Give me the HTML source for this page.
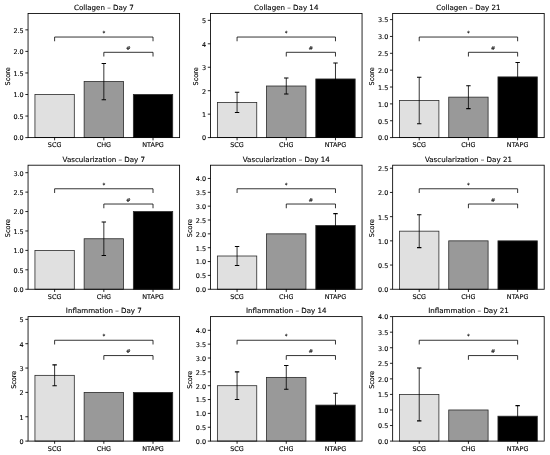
<!DOCTYPE html>
<html lang="en"><head><meta charset="utf-8"><title>Histological scores</title>
<style>html,body{margin:0;padding:0;background:#fff}body{width:550px;height:455px;overflow:hidden}svg{display:block}
text{font-family:"DejaVu Sans","Liberation Sans",sans-serif;fill:#000000;stroke:#000000;stroke-width:0.12px}
.t{font-size:7.1px;text-anchor:middle}.k{font-size:6.45px}.y{text-anchor:end}.x{text-anchor:middle}.a{font-size:5.6px;text-anchor:middle;stroke-width:0.08px}
.s{fill:none;stroke:#000000;stroke-width:0.85}.b{stroke:#000000;stroke-width:0.8}.e{fill:none;stroke:#000000;stroke-width:0.8}.r{fill:none;stroke:#000000;stroke-width:0.8}.c{fill:none;stroke:#000;stroke-width:1.05}.b{stroke:#2a2a2a}
</style></head><body>
<svg width="550" height="455" viewBox="0 0 550 455">
<rect width="550" height="455" fill="#fff"/>
<g>
<text class="t" x="103.83" y="9.95">Collagen – Day 7</text>
<rect class="b" x="34.94" y="94.5" width="39.36" height="43.1" fill="#e0e0e0"/>
<rect class="b" x="84.14" y="81.57" width="39.36" height="56.03" fill="#999999"/>
<rect class="b" x="133.35" y="94.5" width="39.36" height="43.1" fill="#000000"/>
<path class="e" d="M103.83 63.47V99.67"/><path class="c" d="M101.62 63.47H106.03M101.62 99.67H106.03"/>
<path class="r" d="M54.62 41.26V37.04H153.03V41.26M103.83 56.53V52.31H153.03V56.53"/>
<text class="a" x="103.83" y="34.84">*</text>
<text class="a" x="128.43" y="50.21">#</text>
<rect class="s" x="28.05" y="13.45" width="151.55" height="124.15"/>
<path class="s" d="M28.05 137.6h-2.7M28.05 116.05h-2.7M28.05 94.5h-2.7M28.05 72.95h-2.7M28.05 51.4h-2.7M28.05 29.85h-2.7M54.62 137.6v2.7M103.83 137.6v2.7M153.03 137.6v2.7"/>
<text class="k y" x="23.65" y="140.45">0.0</text>
<text class="k y" x="23.65" y="118.9">0.5</text>
<text class="k y" x="23.65" y="97.35">1.0</text>
<text class="k y" x="23.65" y="75.8">1.5</text>
<text class="k y" x="23.65" y="54.25">2.0</text>
<text class="k y" x="23.65" y="32.7">2.5</text>
<text class="k x" x="54.62" y="147.3">SCG</text>
<text class="k x" x="103.83" y="147.3">CHG</text>
<text class="k x" x="153.03" y="147.3">NTAPG</text>
<text class="k x" transform="translate(9.81 76.42) rotate(-90)">Score</text>
</g>
<g>
<text class="t" x="286.27" y="9.95">Collagen – Day 14</text>
<rect class="b" x="217.39" y="102.42" width="39.36" height="35.17" fill="#e0e0e0"/>
<rect class="b" x="266.59" y="86.01" width="39.36" height="51.59" fill="#999999"/>
<rect class="b" x="315.8" y="78.97" width="39.36" height="58.62" fill="#000000"/>
<path class="e" d="M237.07 92.34V112.51M286.27 78.04V93.98M335.48 63.03V94.92"/><path class="c" d="M234.87 92.34H239.27M234.87 112.51H239.27M284.07 78.04H288.47M284.07 93.98H288.47M333.28 63.03H337.68M333.28 94.92H337.68"/>
<path class="r" d="M237.07 41.26V37.04H335.48V41.26M286.27 56.53V52.31H335.48V56.53"/>
<text class="a" x="286.27" y="34.84">*</text>
<text class="a" x="310.88" y="50.21">#</text>
<rect class="s" x="210.5" y="13.45" width="151.55" height="124.15"/>
<path class="s" d="M210.5 137.6h-2.7M210.5 114.15h-2.7M210.5 90.7h-2.7M210.5 67.25h-2.7M210.5 43.8h-2.7M210.5 20.35h-2.7M237.07 137.6v2.7M286.27 137.6v2.7M335.48 137.6v2.7"/>
<text class="k y" x="206.1" y="140.45">0</text>
<text class="k y" x="206.1" y="117">1</text>
<text class="k y" x="206.1" y="93.55">2</text>
<text class="k y" x="206.1" y="70.1">3</text>
<text class="k y" x="206.1" y="46.65">4</text>
<text class="k y" x="206.1" y="23.2">5</text>
<text class="k x" x="237.07" y="147.3">SCG</text>
<text class="k x" x="286.27" y="147.3">CHG</text>
<text class="k x" x="335.48" y="147.3">NTAPG</text>
<text class="k x" transform="translate(198.42 76.42) rotate(-90)">Score</text>
</g>
<g>
<text class="t" x="468.43" y="9.95">Collagen – Day 21</text>
<rect class="b" x="399.54" y="100.51" width="39.36" height="37.09" fill="#e0e0e0"/>
<rect class="b" x="448.74" y="97.14" width="39.36" height="40.46" fill="#999999"/>
<rect class="b" x="497.95" y="76.9" width="39.36" height="60.7" fill="#000000"/>
<path class="e" d="M419.22 77.24V123.77M468.42 85.67V108.6M517.63 62.4V91.4"/><path class="c" d="M417.02 77.24H421.42M417.02 123.77H421.42M466.22 85.67H470.62M466.22 108.6H470.62M515.43 62.4H519.83M515.43 91.4H519.83"/>
<path class="r" d="M419.22 41.26V37.04H517.63V41.26M468.42 56.53V52.31H517.63V56.53"/>
<text class="a" x="468.42" y="34.84">*</text>
<text class="a" x="493.03" y="50.21">#</text>
<rect class="s" x="392.65" y="13.45" width="151.55" height="124.15"/>
<path class="s" d="M392.65 137.6h-2.7M392.65 120.74h-2.7M392.65 103.88h-2.7M392.65 87.02h-2.7M392.65 70.16h-2.7M392.65 53.3h-2.7M392.65 36.44h-2.7M392.65 19.58h-2.7M419.22 137.6v2.7M468.42 137.6v2.7M517.63 137.6v2.7"/>
<text class="k y" x="388.25" y="140.45">0.0</text>
<text class="k y" x="388.25" y="123.59">0.5</text>
<text class="k y" x="388.25" y="106.73">1.0</text>
<text class="k y" x="388.25" y="89.87">1.5</text>
<text class="k y" x="388.25" y="73.01">2.0</text>
<text class="k y" x="388.25" y="56.15">2.5</text>
<text class="k y" x="388.25" y="39.29">3.0</text>
<text class="k y" x="388.25" y="22.43">3.5</text>
<text class="k x" x="419.22" y="147.3">SCG</text>
<text class="k x" x="468.42" y="147.3">CHG</text>
<text class="k x" x="517.63" y="147.3">NTAPG</text>
<text class="k x" transform="translate(374.41 76.42) rotate(-90)">Score</text>
</g>
<g>
<text class="t" x="103.83" y="161.7">Vascularization – Day 7</text>
<rect class="b" x="34.94" y="250.4" width="39.36" height="38.85" fill="#e0e0e0"/>
<rect class="b" x="84.14" y="238.75" width="39.36" height="50.5" fill="#999999"/>
<rect class="b" x="133.35" y="211.55" width="39.36" height="77.7" fill="#000000"/>
<path class="e" d="M103.83 222.04V255.45"/><path class="c" d="M101.62 222.04H106.03M101.62 255.45H106.03"/>
<path class="r" d="M54.62 192.99V188.77H153.03V192.99M103.83 208.25V204.03H153.03V208.25"/>
<text class="a" x="103.83" y="186.57">*</text>
<text class="a" x="128.43" y="201.93">#</text>
<rect class="s" x="28.05" y="165.2" width="151.55" height="124.05"/>
<path class="s" d="M28.05 289.25h-2.7M28.05 269.82h-2.7M28.05 250.4h-2.7M28.05 230.97h-2.7M28.05 211.55h-2.7M28.05 192.12h-2.7M28.05 172.7h-2.7M54.62 289.25v2.7M103.83 289.25v2.7M153.03 289.25v2.7"/>
<text class="k y" x="23.65" y="292.1">0.0</text>
<text class="k y" x="23.65" y="272.68">0.5</text>
<text class="k y" x="23.65" y="253.25">1.0</text>
<text class="k y" x="23.65" y="233.83">1.5</text>
<text class="k y" x="23.65" y="214.4">2.0</text>
<text class="k y" x="23.65" y="194.98">2.5</text>
<text class="k y" x="23.65" y="175.55">3.0</text>
<text class="k x" x="54.62" y="298.95">SCG</text>
<text class="k x" x="103.83" y="298.95">CHG</text>
<text class="k x" x="153.03" y="298.95">NTAPG</text>
<text class="k x" transform="translate(9.81 228.12) rotate(-90)">Score</text>
</g>
<g>
<text class="t" x="286.27" y="161.7">Vascularization – Day 14</text>
<rect class="b" x="217.39" y="256.01" width="39.36" height="33.24" fill="#e0e0e0"/>
<rect class="b" x="266.59" y="233.85" width="39.36" height="55.4" fill="#999999"/>
<rect class="b" x="315.8" y="225.54" width="39.36" height="63.71" fill="#000000"/>
<path class="e" d="M237.07 246.59V265.43M335.48 213.63V237.45"/><path class="c" d="M234.87 246.59H239.27M234.87 265.43H239.27M333.28 213.63H337.68M333.28 237.45H337.68"/>
<path class="r" d="M237.07 192.99V188.77H335.48V192.99M286.27 208.25V204.03H335.48V208.25"/>
<text class="a" x="286.27" y="186.57">*</text>
<text class="a" x="310.88" y="201.93">#</text>
<rect class="s" x="210.5" y="165.2" width="151.55" height="124.05"/>
<path class="s" d="M210.5 289.25h-2.7M210.5 275.4h-2.7M210.5 261.55h-2.7M210.5 247.7h-2.7M210.5 233.85h-2.7M210.5 220h-2.7M210.5 206.15h-2.7M210.5 192.3h-2.7M210.5 178.45h-2.7M237.07 289.25v2.7M286.27 289.25v2.7M335.48 289.25v2.7"/>
<text class="k y" x="206.1" y="292.1">0.0</text>
<text class="k y" x="206.1" y="278.25">0.5</text>
<text class="k y" x="206.1" y="264.4">1.0</text>
<text class="k y" x="206.1" y="250.55">1.5</text>
<text class="k y" x="206.1" y="236.7">2.0</text>
<text class="k y" x="206.1" y="222.85">2.5</text>
<text class="k y" x="206.1" y="209">3.0</text>
<text class="k y" x="206.1" y="195.15">3.5</text>
<text class="k y" x="206.1" y="181.3">4.0</text>
<text class="k x" x="237.07" y="298.95">SCG</text>
<text class="k x" x="286.27" y="298.95">CHG</text>
<text class="k x" x="335.48" y="298.95">NTAPG</text>
<text class="k x" transform="translate(192.26 228.12) rotate(-90)">Score</text>
</g>
<g>
<text class="t" x="468.43" y="161.7">Vascularization – Day 21</text>
<rect class="b" x="399.54" y="231.17" width="39.36" height="58.08" fill="#e0e0e0"/>
<rect class="b" x="448.74" y="240.85" width="39.36" height="48.4" fill="#999999"/>
<rect class="b" x="497.95" y="240.85" width="39.36" height="48.4" fill="#000000"/>
<path class="e" d="M419.22 214.71V247.63"/><path class="c" d="M417.02 214.71H421.42M417.02 247.63H421.42"/>
<path class="r" d="M419.22 192.99V188.77H517.63V192.99M468.42 208.25V204.03H517.63V208.25"/>
<text class="a" x="468.42" y="186.57">*</text>
<text class="a" x="493.03" y="201.93">#</text>
<rect class="s" x="392.65" y="165.2" width="151.55" height="124.05"/>
<path class="s" d="M392.65 289.25h-2.7M392.65 265.05h-2.7M392.65 240.85h-2.7M392.65 216.65h-2.7M392.65 192.45h-2.7M392.65 168.25h-2.7M419.22 289.25v2.7M468.42 289.25v2.7M517.63 289.25v2.7"/>
<text class="k y" x="388.25" y="292.1">0.0</text>
<text class="k y" x="388.25" y="267.9">0.5</text>
<text class="k y" x="388.25" y="243.7">1.0</text>
<text class="k y" x="388.25" y="219.5">1.5</text>
<text class="k y" x="388.25" y="195.3">2.0</text>
<text class="k y" x="388.25" y="171.1">2.5</text>
<text class="k x" x="419.22" y="298.95">SCG</text>
<text class="k x" x="468.42" y="298.95">CHG</text>
<text class="k x" x="517.63" y="298.95">NTAPG</text>
<text class="k x" transform="translate(374.41 228.12) rotate(-90)">Score</text>
</g>
<g>
<text class="t" x="103.83" y="313.1">Inflammation – Day 7</text>
<rect class="b" x="34.94" y="375.36" width="39.36" height="65.75" fill="#e0e0e0"/>
<rect class="b" x="84.14" y="392.4" width="39.36" height="48.7" fill="#999999"/>
<rect class="b" x="133.35" y="392.4" width="39.36" height="48.7" fill="#000000"/>
<path class="e" d="M54.62 364.88V385.83"/><path class="c" d="M52.42 364.88H56.82M52.42 385.83H56.82"/>
<path class="r" d="M54.62 344.49V340.25H153.03V344.49M103.83 359.8V355.57H153.03V359.8"/>
<text class="a" x="103.83" y="338.06">*</text>
<text class="a" x="128.43" y="353.47">#</text>
<rect class="s" x="28.05" y="316.6" width="151.55" height="124.5"/>
<path class="s" d="M28.05 441.1h-2.7M28.05 416.75h-2.7M28.05 392.4h-2.7M28.05 368.05h-2.7M28.05 343.7h-2.7M28.05 319.35h-2.7M54.62 441.1v2.7M103.83 441.1v2.7M153.03 441.1v2.7"/>
<text class="k y" x="23.65" y="443.95">0</text>
<text class="k y" x="23.65" y="419.6">1</text>
<text class="k y" x="23.65" y="395.25">2</text>
<text class="k y" x="23.65" y="370.9">3</text>
<text class="k y" x="23.65" y="346.55">4</text>
<text class="k y" x="23.65" y="322.2">5</text>
<text class="k x" x="54.62" y="450.8">SCG</text>
<text class="k x" x="103.83" y="450.8">CHG</text>
<text class="k x" x="153.03" y="450.8">NTAPG</text>
<text class="k x" transform="translate(15.97 379.75) rotate(-90)">Score</text>
</g>
<g>
<text class="t" x="286.27" y="313.1">Inflammation – Day 14</text>
<rect class="b" x="217.39" y="385.7" width="39.36" height="55.4" fill="#e0e0e0"/>
<rect class="b" x="266.59" y="377.39" width="39.36" height="63.71" fill="#999999"/>
<rect class="b" x="315.8" y="405.09" width="39.36" height="36.01" fill="#000000"/>
<path class="e" d="M237.07 371.85V399.55M286.27 365.48V389.3M335.48 393.18V417"/><path class="c" d="M234.87 371.85H239.27M234.87 399.55H239.27M284.07 365.48H288.47M284.07 389.3H288.47M333.28 393.18H337.68M333.28 417H337.68"/>
<path class="r" d="M237.07 344.49V340.25H335.48V344.49M286.27 359.8V355.57H335.48V359.8"/>
<text class="a" x="286.27" y="338.06">*</text>
<text class="a" x="310.88" y="353.47">#</text>
<rect class="s" x="210.5" y="316.6" width="151.55" height="124.5"/>
<path class="s" d="M210.5 441.1h-2.7M210.5 427.25h-2.7M210.5 413.4h-2.7M210.5 399.55h-2.7M210.5 385.7h-2.7M210.5 371.85h-2.7M210.5 358h-2.7M210.5 344.15h-2.7M210.5 330.3h-2.7M237.07 441.1v2.7M286.27 441.1v2.7M335.48 441.1v2.7"/>
<text class="k y" x="206.1" y="443.95">0.0</text>
<text class="k y" x="206.1" y="430.1">0.5</text>
<text class="k y" x="206.1" y="416.25">1.0</text>
<text class="k y" x="206.1" y="402.4">1.5</text>
<text class="k y" x="206.1" y="388.55">2.0</text>
<text class="k y" x="206.1" y="374.7">2.5</text>
<text class="k y" x="206.1" y="360.85">3.0</text>
<text class="k y" x="206.1" y="347">3.5</text>
<text class="k y" x="206.1" y="333.15">4.0</text>
<text class="k x" x="237.07" y="450.8">SCG</text>
<text class="k x" x="286.27" y="450.8">CHG</text>
<text class="k x" x="335.48" y="450.8">NTAPG</text>
<text class="k x" transform="translate(192.26 379.75) rotate(-90)">Score</text>
</g>
<g>
<text class="t" x="468.43" y="313.1">Inflammation – Day 21</text>
<rect class="b" x="399.54" y="394.42" width="39.36" height="46.68" fill="#e0e0e0"/>
<rect class="b" x="448.74" y="409.98" width="39.36" height="31.12" fill="#999999"/>
<rect class="b" x="497.95" y="416.2" width="39.36" height="24.9" fill="#000000"/>
<path class="e" d="M419.22 367.97V420.87M517.63 405.62V426.78"/><path class="c" d="M417.02 367.97H421.42M417.02 420.87H421.42M515.43 405.62H519.83M515.43 426.78H519.83"/>
<path class="r" d="M419.22 344.49V340.25H517.63V344.49M468.42 359.8V355.57H517.63V359.8"/>
<text class="a" x="468.42" y="338.06">*</text>
<text class="a" x="493.03" y="353.47">#</text>
<rect class="s" x="392.65" y="316.6" width="151.55" height="124.5"/>
<path class="s" d="M392.65 441.1h-2.7M392.65 425.54h-2.7M392.65 409.98h-2.7M392.65 394.42h-2.7M392.65 378.86h-2.7M392.65 363.3h-2.7M392.65 347.74h-2.7M392.65 332.18h-2.7M392.65 316.62h-2.7M419.22 441.1v2.7M468.42 441.1v2.7M517.63 441.1v2.7"/>
<text class="k y" x="388.25" y="443.95">0.0</text>
<text class="k y" x="388.25" y="428.39">0.5</text>
<text class="k y" x="388.25" y="412.83">1.0</text>
<text class="k y" x="388.25" y="397.27">1.5</text>
<text class="k y" x="388.25" y="381.71">2.0</text>
<text class="k y" x="388.25" y="366.15">2.5</text>
<text class="k y" x="388.25" y="350.59">3.0</text>
<text class="k y" x="388.25" y="335.03">3.5</text>
<text class="k y" x="388.25" y="319.47">4.0</text>
<text class="k x" x="419.22" y="450.8">SCG</text>
<text class="k x" x="468.42" y="450.8">CHG</text>
<text class="k x" x="517.63" y="450.8">NTAPG</text>
<text class="k x" transform="translate(374.41 379.75) rotate(-90)">Score</text>
</g>
</svg></body></html>
